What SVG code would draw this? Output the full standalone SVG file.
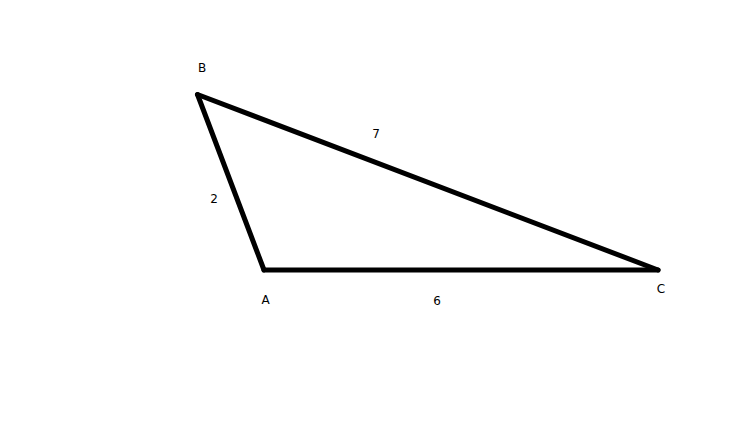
<svg xmlns="http://www.w3.org/2000/svg" width="730" height="424" viewBox="0 0 730 424">
<style>
.edge{stroke:#000;stroke-width:5;fill:none;stroke-linecap:round;stroke-linejoin:round}
.lbl{font-family:"DejaVu Sans","Liberation Sans",sans-serif;font-size:12px;fill:#000;text-anchor:middle}
</style>
<rect width="730" height="424" fill="#fff"/>
<g id="connectors">
<line class="edge" x1="197.5" y1="94.5" x2="264" y2="270"/>
<line class="edge" x1="264" y1="270" x2="658" y2="270"/>
<line class="edge" x1="197.5" y1="94.5" x2="658" y2="270"/>
</g>
<g id="B"><text class="lbl" x="202" y="72">B</text></g>
<g id="A"><text class="lbl" x="265.5" y="304">A</text></g>
<g id="C"><text class="lbl" x="661" y="293">C</text></g>
<g id="edge-labels">
<text class="lbl" x="214" y="203">2</text>
<text class="lbl" x="376" y="138">7</text>
<text class="lbl" x="437" y="305">6</text>
</g>
</svg>
